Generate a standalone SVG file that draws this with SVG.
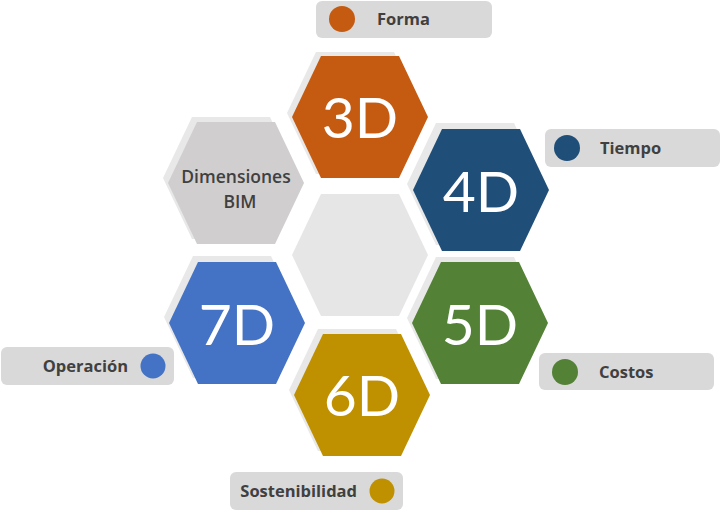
<svg xmlns="http://www.w3.org/2000/svg" xmlns:xlink="http://www.w3.org/1999/xlink" width="721" height="514" viewBox="0 0 721 514">
<style>
.back{fill:#E8E8E8}
.big{font-family:Lato,"Liberation Sans",sans-serif;font-size:57px;fill:#FFFFFF;text-anchor:middle}
.box{fill:#D9D9D9}
.lbl{font-family:"Open Sans","Liberation Sans",sans-serif;font-weight:700;font-size:16.5px;fill:#404040}
.bim{font-family:"Open Sans","Liberation Sans",sans-serif;font-weight:600;font-size:17.5px;fill:#404040;text-anchor:middle}
</style>
<defs>
<polygon id="hex" points="-68,0 -39,-61 39,-61 68,0 39,61 -39,61"/>
</defs>
<rect width="721" height="514" fill="#FFFFFF"/>
<g id="connectors"></g>
<g id="center">
<use xlink:href="#hex" transform="translate(360,255)" fill="#E6E6E6"/>
</g>
<g id="bim">
<use xlink:href="#hex" class="back" transform="translate(231,178)"/>
<use xlink:href="#hex" transform="translate(236,183)" fill="#D0CECE"/>
<text class="bim" x="236" y="183">Dimensiones</text>
<text class="bim" x="240" y="208" font-weight="700" font-size="19">BIM</text>
</g>
<g id="d3">
<use xlink:href="#hex" class="back" transform="translate(355,113)"/>
<use xlink:href="#hex" transform="translate(360,117)" fill="#C55A11"/>
<text class="big" x="360" y="138">3D</text>
</g>
<g id="d4">
<use xlink:href="#hex" class="back" transform="translate(475,184)"/>
<use xlink:href="#hex" transform="translate(481,190)" fill="#1F4E79"/>
<text class="big" x="481" y="212">4D</text>
</g>
<g id="d5">
<use xlink:href="#hex" class="back" transform="translate(475,318)"/>
<use xlink:href="#hex" transform="translate(480,323)" fill="#538135"/>
<text class="big" x="480" y="345">5D</text>
</g>
<g id="d6">
<use xlink:href="#hex" class="back" transform="translate(357,390)"/>
<use xlink:href="#hex" transform="translate(362,395)" fill="#BF9000"/>
<text class="big" x="362" y="416">6D</text>
</g>
<g id="d7">
<use xlink:href="#hex" class="back" transform="translate(232,317)"/>
<use xlink:href="#hex" transform="translate(237,323)" fill="#4472C4"/>
<text class="big" x="237" y="345">7D</text>
</g>
<g id="forma">
<rect class="box" x="316" y="1" width="176" height="37" rx="6"/>
<circle cx="342" cy="19" r="13" fill="#C55A11"/>
<text class="lbl" x="377" y="25">Forma</text>
</g>
<g id="tiempo">
<rect class="box" x="545" y="129" width="175" height="38" rx="6"/>
<circle cx="567" cy="148" r="13" fill="#1F4E79"/>
<text class="lbl" x="600" y="154">Tiempo</text>
</g>
<g id="costos">
<rect class="box" x="539" y="353" width="175" height="37" rx="6"/>
<circle cx="565" cy="372" r="13" fill="#538135"/>
<text class="lbl" x="599" y="378">Costos</text>
</g>
<g id="operacion">
<rect class="box" x="1" y="347" width="173" height="38" rx="6"/>
<circle cx="153" cy="366" r="12.5" fill="#4472C4"/>
<text class="lbl" x="128" y="372" text-anchor="end">Operación</text>
</g>
<g id="sostenibilidad">
<rect class="box" x="230" y="472" width="173" height="38" rx="6"/>
<circle cx="382" cy="491" r="12.5" fill="#BF9000"/>
<text class="lbl" x="357" y="497" text-anchor="end">Sostenibilidad</text>
</g>
</svg>
